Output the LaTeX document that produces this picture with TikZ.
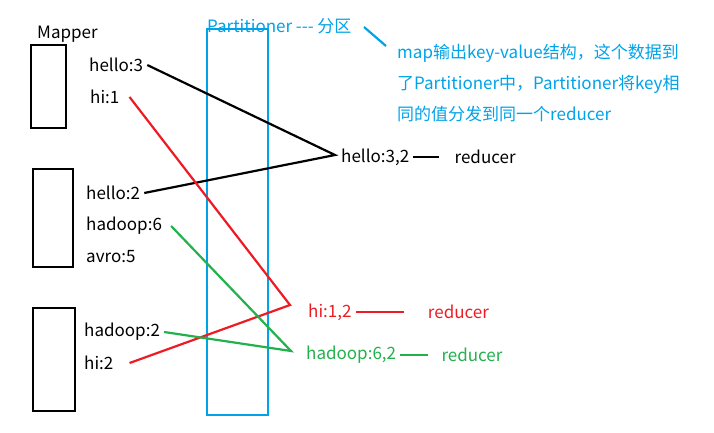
\documentclass[tikz,border=0pt]{standalone}
\usepackage{fontspec}
\setmainfont{Noto Sans CJK SC}
\usepackage{tikz}
\usetikzlibrary{positioning}

\definecolor{partblue}{RGB}{0,162,232}
\definecolor{keyred}{RGB}{237,28,36}
\definecolor{keygreen}{RGB}{34,177,76}

\begin{document}
\begin{tikzpicture}[x=1pt,y=-1pt,
    lbl/.style={anchor=west,inner sep=4pt,font=\fontsize{17}{20}\selectfont},
    mapbox/.style={draw,line width=2pt},
    link/.style={line width=2.2pt}]
  \useasboundingbox (0,0) rectangle (714,432);

  % mappers
  \node[lbl,inner sep=0pt] (mapper) at (37,34) {Mapper};
  \draw[mapbox] (31,45) rectangle (66,128);
  \draw[mapbox] (33,169) rectangle (73,267);
  \draw[mapbox] (33,308) rectangle (75,411);

  % partitioner
  \draw[partblue,line width=2.2pt] (207,29) rectangle (268,415);
  \node[lbl,inner sep=0pt,text=partblue] (part) at (207,26) {Partitioner -{}-{}- 分区};
  \coordinate (c1) at (364,27);
  \coordinate (c2) at (386,46);
  \draw[partblue,line width=2.2pt] (c1) -- (c2);
  \node[lbl,inner sep=0pt,text=partblue,align=left,anchor=north west,
        font=\fontsize{17}{31}\selectfont] (note) at (397,44)
    {map输出key-value结构，这个数据到\\了Partitioner中，Partitioner将key相\\同的值分发到同一个reducer};

  % map output
  \node[lbl] (h3) at (85,65) {hello:3};
  \node[lbl] (i1) at (86,97) {hi:1};
  \node[lbl] (h2) at (82,193) {hello:2};
  \node[lbl] (d6) at (82,226) {hadoop:6};
  \node[lbl] (a5) at (82,257) {avro:5};
  \node[lbl] (d2) at (80,332) {hadoop:2};
  \node[lbl] (i2) at (80,363) {hi:2};

  \coordinate (m1) at (335,155);
  \coordinate (m2) at (290,305);
  \coordinate (m3) at (291,351);

  % reducer side
  \node[lbl] (h32) at (337,157) {hello:3,2};
  \node[lbl] (r1) [right=37pt of h32.east,anchor=west] {reducer};
  \node[lbl,text=keyred] (i12) at (304,312) {hi:1,2};
  \node[lbl,text=keyred] (r2) [right=68pt of i12.east,anchor=west] {reducer};
  \node[lbl,text=keygreen] (d62) at (302,355) {hadoop:6,2};
  \node[lbl,text=keygreen] (r3) [right=37pt of d62.east,anchor=west] {reducer};

  \draw[link] (h3.east) -- (m1) -- (h2.east);
  \draw[link,keyred] (i1.east) ++(6pt,0) -- (m2) -- ([xshift=12pt]i2.east);
  \draw[link,keygreen] ([xshift=5pt]d6.east) -- (m3) -- (d2.east);

  \draw[link,shorten >=11pt] (h32.east) -- (r1.west);
  \draw[link,keyred,shorten >=20pt] (i12.east) -- (r2.west);
  \draw[link,keygreen,shorten >=9pt] (d62.east) -- (r3.west);
\end{tikzpicture}
\end{document}
